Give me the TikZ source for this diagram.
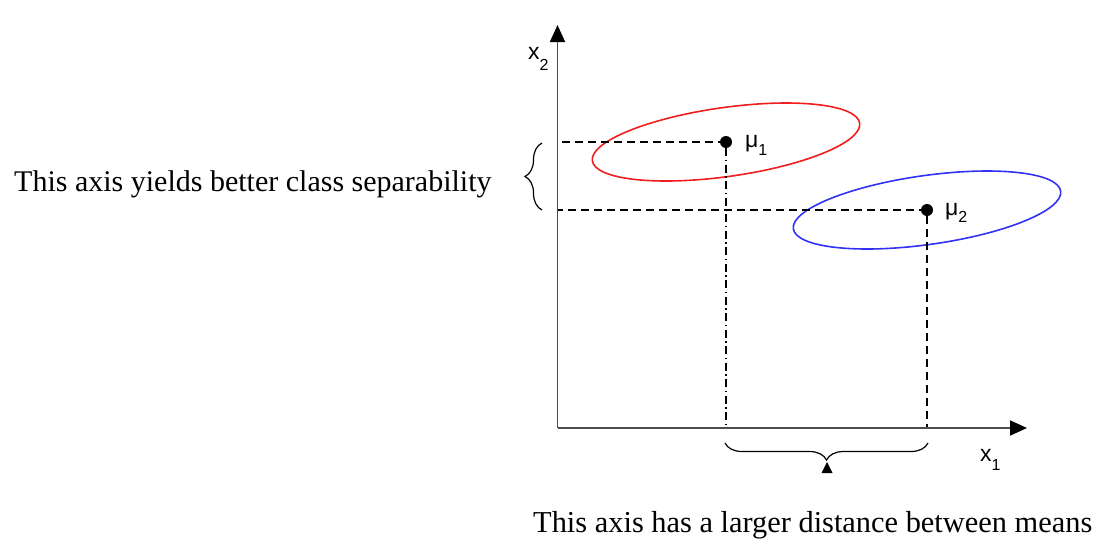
\documentclass[tikz,border=0pt]{standalone}
\usepackage{fontspec}
\setmainfont{Liberation Serif}
\newfontfamily\lsans{Liberation Sans}
\usetikzlibrary{arrows.meta,decorations.pathreplacing,calc}
\definecolor{ellred}{RGB}{240,30,30}
\definecolor{ellblue}{RGB}{50,50,245}
\tikzset{
  axisline/.style={line width=1.8pt,draw=black!70,-{Triangle[width=15pt,length=17pt,fill=black,color=black]}},
  meandot/.style={circle,fill=black,inner sep=0pt,minimum size=12pt},
  guidedash/.style={draw=black,line width=1.1pt,dash pattern=on 8pt off 5pt},
  guidedashdot/.style={draw=black,line width=1.1pt,dash pattern=on 8pt off 3.5pt on 1.5pt off 3.5pt},
  classell/.style={line width=1.6pt},
  bracestyle/.style={draw=black,line width=1.2pt,decorate,decoration={brace,amplitude=17pt}},
  axlabel/.style={inner sep=0pt,anchor=base west,font=\lsans\fontsize{23}{23}\selectfont},
  caption/.style={inner sep=0pt,anchor=base west,font=\fontsize{30}{36}\selectfont},
}
\newcommand{\lowsub}[2]{\raisebox{-#1pt}{\fontsize{16}{16}\selectfont #2}}
\begin{document}
\begin{tikzpicture}[x=1pt,y=1pt]
\useasboundingbox (0,0) rectangle (1107,-558);
% axes
\coordinate (o) at (557.5,-428);
\coordinate (ytop) at (557.5,-25);
\coordinate (xend) at (1027,-428);
% means
\node[meandot] (m1) at (726,-142) {};
\node[meandot] (m2) at (927,-210) {};
% ellipses
\draw[classell,ellred] (m1.center) ellipse [x radius=135, y radius=34.5, rotate=8];
\draw[classell,ellblue] (m2.center) ellipse [x radius=135, y radius=34.5, rotate=8];
% guide lines
\draw[guidedash] (m1.center) -- (o |- m1.center);
\draw[guidedash] (m2.center) -- (o |- m2.center);
\draw[guidedashdot] (m1.south) -- (m1 |- o);
\draw[guidedash] (m2.south) -- (m2 |- o);
% axes on top
\draw[axisline] (o) -- (ytop);
\draw[axisline] (o) -- (xend);
% labels
\node[axlabel] (lx2) at (528,-59) {x\lowsub{11}{2}};
\node[axlabel] (lx1) at (980,-461) {x\lowsub{9}{1}};
\node[axlabel] (lm1) at (745,-147) {μ\lowsub{8}{1}};
\node[axlabel] (lm2) at (945,-215) {μ\lowsub{7}{2}};
% braces
\coordinate (lbB) at (542,-210);
\coordinate (lbT) at (542,-143);
\draw[bracestyle] (lbB) -- (lbT);
\coordinate (bbR) at (928,-443);
\coordinate (bbL) at (725,-443);
\draw[bracestyle] (bbR) -- (bbL);
\fill (827,-462) -- (832.5,-473) -- (821.5,-473) -- cycle;
% captions
\node[caption] (c1) at (14,-191) {This axis yields better class separability};
\node[caption,font=\fontsize{30.4}{36}\selectfont] (c2) at (533,-532) {This axis has a larger distance between means};
\end{tikzpicture}
\end{document}
